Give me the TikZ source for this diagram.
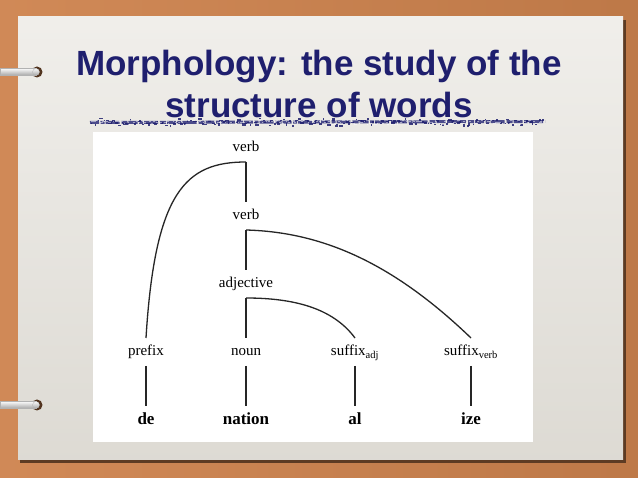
\documentclass[tikz,border=0pt]{standalone}
\usepackage{fontspec}
\setmainfont{Liberation Serif}
\newfontfamily\titlefont{Liberation Sans}
\usetikzlibrary{positioning}

\definecolor{slideorange}{RGB}{206,131,78}
\definecolor{papergray}{RGB}{228,225,218}
\definecolor{titleblue}{RGB}{31,31,110}

\tikzset{
    cat/.style={font=\fontsize{15}{18}\selectfont, anchor=base, inner sep=0pt,
        outer sep=7pt, text height=11pt, text depth=3pt},
    morph/.style={font=\fontsize{17}{20}\selectfont\bfseries, anchor=base, inner sep=0pt,
        outer sep=7pt, text height=12pt, text depth=3pt},
    branch/.style={line width=1.3pt, black!85},
    titletext/.style={font=\titlefont\fontsize{35}{40}\selectfont\bfseries, text=titleblue, anchor=base},
    brush/.style={titleblue!80, line width=3pt},
    ring/.style={top color=white!95!gray, bottom color=gray!70, draw=gray!60, line width=0.3pt}
}

\begin{document}
\begin{tikzpicture}[x=1pt, y=-1pt]
    \useasboundingbox (0,0) rectangle (638,478);

    % Board and paper
    \fill[left color=slideorange!95!white, right color=slideorange!92!black] (0,0) rectangle (638,478);
    \fill[black!55!slideorange] (20,20) rectangle (626,463);
    \fill[top color=papergray!55!white, bottom color=papergray!97!black] (18,17) rectangle (623,460);

    % Binder rings
    \foreach \ry in {72,405} {
        \fill[black!60!slideorange] (37,\ry) circle (5.5);
        \shade[ring] (0,\ry-3.5) rectangle (36,\ry+3.5);
        \shade[ring] (36,\ry) circle (3.5);
    }

    % Title
    \node[titletext] (title1) at (319,76) {Morphology: the study of the};
    \node[titletext] (title2) at (319,118) {structure of words};

    % Brush stroke under the title
    \draw[brush, dash pattern=on 9pt off 1.5pt on 4pt off 1pt on 14pt off 2pt on 6pt off 1pt] (90,122.5) -- (545,121.5);
    \pgfmathsetseed{11}
    \foreach \i in {0,...,150} {
        \fill[titleblue, opacity=0.85] ({90+3*\i+2*rnd}, {118+7*rnd}) rectangle +({1+3*rnd}, {1+1.5*rnd});
        \fill[white, opacity=0.5] ({90+3*\i+2*rnd}, {120+4*rnd}) rectangle +({1+2*rnd}, {0.8});
    }

    % White panel
    \fill[white] (93,132) rectangle (533,442);

    % Category labels
    \node[cat] (v1) at (246,152) {verb};
    \node[cat] (v2) at (246,220) {verb};
    \node[cat] (adj) at (246,288) {adjective};
    \node[cat] (prefix) at (146,356) {prefix};
    \node[cat] (noun) at (246,356) {noun};
    \node[cat] (sadj) at (355,356) {suffix\textsubscript{adj}};
    \node[cat] (sverb) at (471,356) {suffix\textsubscript{verb}};

    % Morphemes
    \node[morph] (de) at (146,425) {de};
    \node[morph] (nation) at (246,425) {nation};
    \node[morph] (al) at (355,425) {al};
    \node[morph] (ize) at (471,425) {ize};

    % Branches
    \draw[branch] (v1.south) -- (v2.north);
    \draw[branch] (v1.south) .. controls +(-60,0) and +(9,-147) .. (prefix.north);
    \draw[branch] (v2.south) -- (adj.north);
    \draw[branch] (v2.south) .. controls +(74,2) and +(-80,-77) .. (sverb.north);
    \draw[branch] (adj.south) -- (noun.north);
    \draw[branch] (adj.south) .. controls +(54,0) and +(-20,-27) .. (sadj.north);

    % Terminal lines
    \draw[branch] (prefix.south) -- (de.north);
    \draw[branch] (noun.south) -- (nation.north);
    \draw[branch] (sadj.south) -- (al.north);
    \draw[branch] (sverb.south) -- (ize.north);
\end{tikzpicture}
\end{document}
